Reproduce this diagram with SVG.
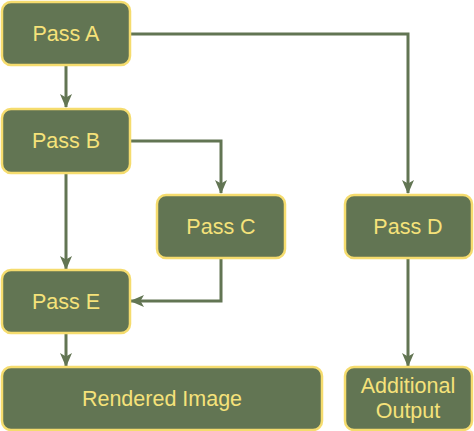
<svg xmlns="http://www.w3.org/2000/svg" width="474" height="431" viewBox="0 0 474 431">
<style>
.box{fill:#627553;stroke:#f5dc6e;stroke-width:2.5}
.lbl{fill:#f5e27a;font-family:"Liberation Sans",Arial,sans-serif;font-size:21.5px;text-anchor:middle;dominant-baseline:central}
.edge{fill:none;stroke:#627553;stroke-width:3}
</style>
<defs>
<marker id="arr" viewBox="0 0 14 12" refX="13" refY="6" markerWidth="14" markerHeight="12" markerUnits="userSpaceOnUse" orient="auto">
<path d="M0,0 L14,6 L0,12 L3.5,6 Z" fill="#627553"/>
</marker>
</defs>
<rect width="474" height="431" fill="#ffffff"/>
<g id="connectors">
<path class="edge" d="M66,66 V107" marker-end="url(#arr)"/>
<path class="edge" d="M131,34 H408 V193" marker-end="url(#arr)"/>
<path class="edge" d="M131,141 H221 V193" marker-end="url(#arr)"/>
<path class="edge" d="M66,174 V269" marker-end="url(#arr)"/>
<path class="edge" d="M221,259 V301 H131" marker-end="url(#arr)"/>
<path class="edge" d="M66,334 V366" marker-end="url(#arr)"/>
<path class="edge" d="M408,259 V366" marker-end="url(#arr)"/>
</g>
<g id="passA"><rect class="box" x="2" y="2" width="128" height="63" rx="9"/><text class="lbl" x="66" y="34">Pass A</text></g>
<g id="passB"><rect class="box" x="2" y="109" width="128" height="64" rx="9"/><text class="lbl" x="66" y="141">Pass B</text></g>
<g id="passC"><rect class="box" x="157" y="195" width="128" height="63" rx="9"/><text class="lbl" x="221" y="227">Pass C</text></g>
<g id="passD"><rect class="box" x="345" y="195" width="127" height="63" rx="9"/><text class="lbl" x="408" y="227">Pass D</text></g>
<g id="passE"><rect class="box" x="2" y="270" width="128" height="63" rx="9"/><text class="lbl" x="66" y="302">Pass E</text></g>
<g id="rendered"><rect class="box" x="2" y="367" width="320" height="63" rx="9"/><text class="lbl" x="162" y="399">Rendered Image</text></g>
<g id="additional"><rect class="box" x="345" y="367" width="127" height="63" rx="9"/><text class="lbl" x="408" y="386">Additional</text><text class="lbl" x="408" y="411">Output</text></g>
</svg>
